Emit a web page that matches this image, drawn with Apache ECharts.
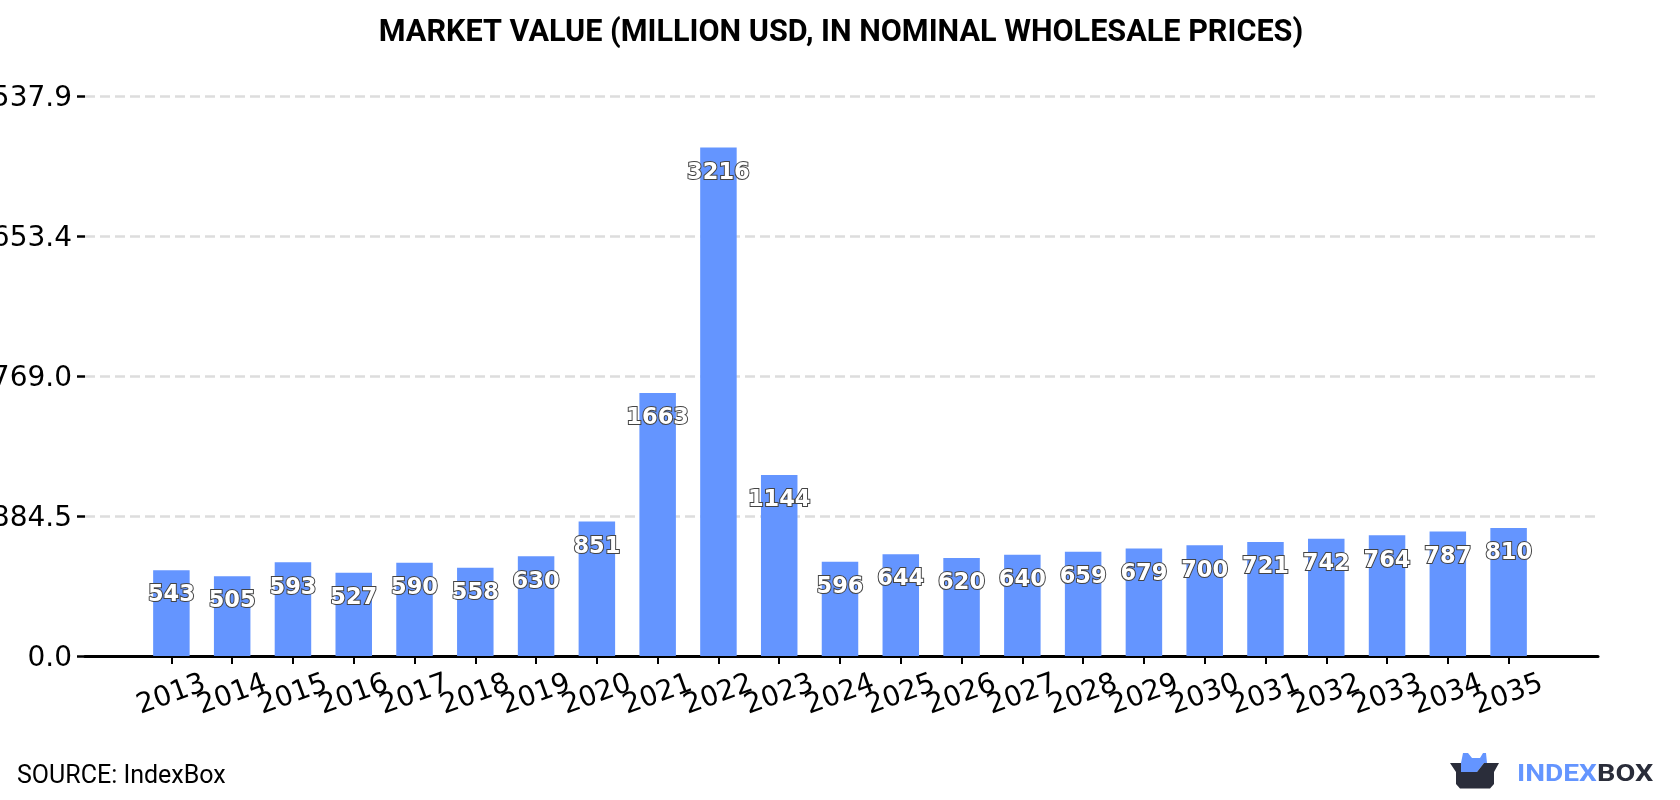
<!DOCTYPE html>
<html>
<head>
<meta charset="utf-8">
<style>
  html, body { margin: 0; padding: 0; background: #fff; }
  #chart { width: 1680px; height: 800px; }
</style>
<script src="https://cdn.jsdelivr.net/npm/echarts@6/dist/echarts.min.js"></script>
</head>
<body>
<div id="chart"></div>
<script>
// Market value per year, million USD
const years = ['2013','2014','2015','2016','2017','2018','2019','2020','2021','2022','2023','2024',
               '2025','2026','2027','2028','2029','2030','2031','2032','2033','2034','2035'];
const marketValue = [543,505,593,527,590,558,630,851,1663,3216,1144,596,
                     644,620,640,659,679,700,721,742,764,787,810];
const yMax = 3537.9;
const yStep = 884.475;

const BLUE = '#6495ff';
const DARK = '#2a2d3a';

const chart = echarts.init(document.getElementById('chart'), null, { renderer: 'canvas' });

chart.setOption({
  animation: false,
  backgroundColor: '#fff',
  title: {
    text: 'MARKET VALUE (MILLION USD, IN NOMINAL WHOLESALE PRICES)',
    left: 836, top: 13, textAlign: 'center',
    textStyle: { fontFamily: 'Roboto', fontWeight: 'bold', fontSize: 30.6, color: '#000' }
  },
  // The wide grid carries the gridlines and baseline, the narrow one the bars
  grid: [
    { left: 85, width: 1513, top: 96.5, height: 559.5, outerBoundsMode: 'none' },
    { left: 141, width: 1398, top: 96.5, height: 559.5, outerBoundsMode: 'none' }
  ],
  xAxis: [
    {
      gridIndex: 0, type: 'value', min: 0, max: 1,
      axisLine: { show: true, lineStyle: { color: '#000', width: 3 } },
      axisTick: { show: false }, axisLabel: { show: false }, splitLine: { show: false }
    },
    {
      gridIndex: 1, type: 'category', data: years,
      axisLine: { show: false },
      axisTick: { show: true, alignWithLabel: true, length: 8, lineStyle: { color: '#000', width: 2 } },
      axisLabel: {
        interval: 0, rotate: 20, margin: 39, align: 'center', verticalAlign: 'middle',
        fontFamily: 'DejaVu Sans', fontSize: 28, color: '#000'
      }
    }
  ],
  yAxis: [
    {
      gridIndex: 0, type: 'value', min: 0, max: yMax, interval: yStep,
      axisLine: { show: false },
      axisTick: { show: true, length: 8, lineStyle: { color: '#000', width: 2.5 } },
      axisLabel: {
        margin: 13, fontFamily: 'DejaVu Sans', fontSize: 28, color: '#000',
        verticalAlign: 'top', lineHeight: 5,
        formatter: v => v.toFixed(1)
      },
      splitLine: { show: true, lineStyle: { color: '#dddddd', width: 2.5, type: [10, 5] } }
    },
    {
      gridIndex: 1, type: 'value', min: 0, max: yMax, interval: yStep, show: false
    }
  ],
  series: [{
    type: 'bar',
    xAxisIndex: 1, yAxisIndex: 1,
    data: marketValue,
    barWidth: 36.5,
    itemStyle: { color: BLUE },
    label: {
      show: true, position: 'insideTop', distance: 14,
      fontFamily: 'DejaVu Sans', fontWeight: 'bold', fontSize: 22.5,
      color: '#fff', textBorderColor: '#444', textBorderWidth: 2
    }
  }],
  graphic: [
    { type: 'text', left: 17, top: 764,
      style: { text: 'SOURCE: IndexBox', fontFamily: 'Roboto', fontSize: 25, fill: '#000' } },
    // Brand mark: blue crown rising out of a dark box
    { type: 'polygon', shape: { points: [[1461,763],[1463,753],[1468,753],[1472,758],[1480,758],[1483,753],[1486,753],[1487,763],[1484,763],[1477,772],[1461,772]] },
      style: { fill: BLUE } },
    { type: 'polygon', shape: { points: [[1450,763],[1461,763],[1461,772],[1477,772],[1484,763],[1499,763],[1494,772],[1494,784],[1490,788.5],[1460,788.5],[1456,784],[1456,772]] },
      style: { fill: DARK } },
    { type: 'text', x: 1517, y: 763, scaleX: 1.17,
      style: { text: 'INDEX', fontFamily: 'Roboto', fontWeight: 'bold', fontSize: 24, fill: BLUE } },
    { type: 'text', x: 1597, y: 763, scaleX: 1.2,
      style: { text: 'BOX', fontFamily: 'Roboto', fontWeight: 'bold', fontSize: 24, fill: DARK } }
  ]
});
</script>
</body>
</html>
